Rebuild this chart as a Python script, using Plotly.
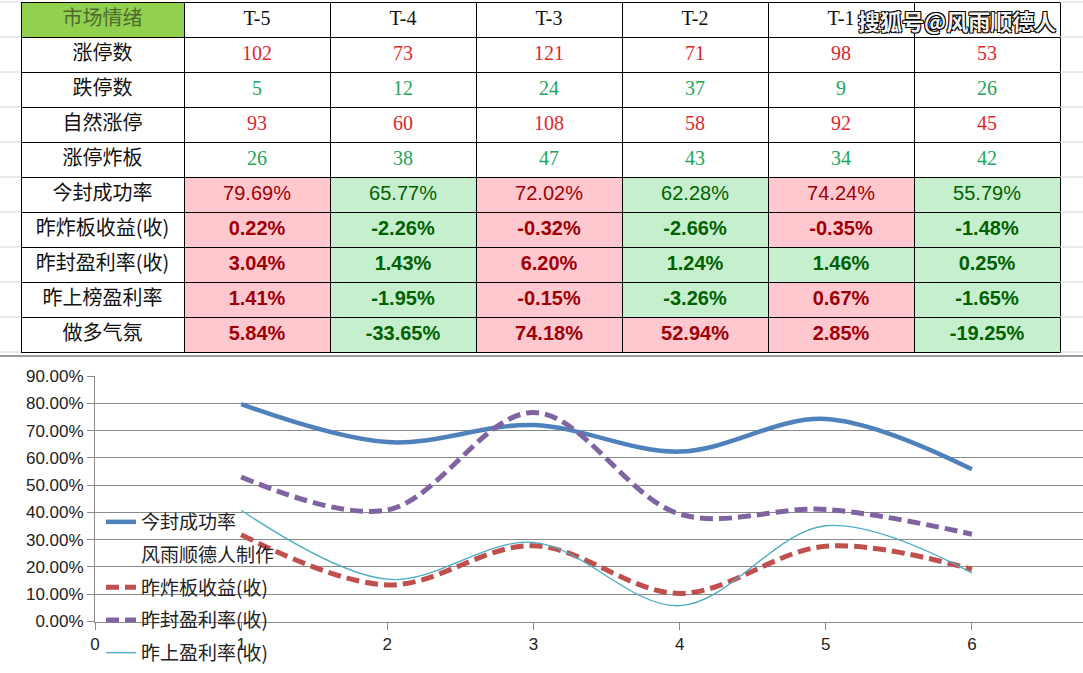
import plotly.graph_objects as go

# ---------------- data ----------------
col_headers = ["市场情绪", "T-5", "T-4", "T-3", "T-2", "T-1", ""]
row_labels = ["涨停数", "跌停数", "自然涨停", "涨停炸板", "今封成功率",
              "昨炸板收益(收)", "昨封盈利率(收)", "昨上榜盈利率", "做多气氛"]
zt_count = [102, 73, 121, 71, 98, 53]
dt_count = [5, 12, 24, 37, 9, 26]
natural_zt = [93, 60, 108, 58, 92, 45]
zt_broken = [26, 38, 47, 43, 34, 42]
seal_rate = [79.69, 65.77, 72.02, 62.28, 74.24, 55.79]
broken_ret = [0.22, -2.26, -0.32, -2.66, -0.35, -1.48]
seal_profit = [3.04, 1.43, 6.20, 1.24, 1.46, 0.25]
list_profit = [1.41, -1.95, -0.15, -3.26, 0.67, -1.65]
long_mood = [5.84, -33.65, 74.18, 52.94, 2.85, -19.25]
# conditional-format flag per cell (1 = warm / pink, 0 = cool / green)
seal_rate_up = [1, 0, 1, 0, 1, 0]
broken_ret_up = [1, 0, 1, 0, 1, 0]
seal_profit_up = [1, 0, 1, 0, 0, 0]
list_profit_up = [1, 0, 1, 0, 1, 0]
long_mood_up = [1, 0, 1, 1, 1, 0]

# chart series (in %)
x_days = [1, 2, 3, 4, 5, 6]
chart_seal_rate = [79.69, 65.77, 72.02, 62.28, 74.24, 55.79]
chart_broken_ret = [31.8, 13.4, 27.8, 10.3, 27.6, 19.1]
chart_seal_profit = [53.0, 40.9, 76.6, 39.4, 41.1, 32.0]
chart_list_profit = [40.8, 15.5, 29.0, 5.8, 35.1, 17.8]
series_names = ["今封成功率", "风雨顺德人制作", "昨炸板收益(收)", "昨封盈利率(收)", "昨上盈利率(收)"]
y_ticks = [0, 10, 20, 30, 40, 50, 60, 70, 80, 90]
x_ticks = [0, 1, 2, 3, 4, 5, 6]

# ---------------- styles ----------------
W, H = 1083, 673
RED, GREEN = "#E0262B", "#22A55A"
PINK_BG, GREEN_BG = "#FFC7CE", "#C6EFCE"
PINK_FG, GREEN_FG = "#9C0006", "#006100"
SERIF = "Liberation Serif, Noto Sans CJK SC, serif"
SANS = "Liberation Sans, Arial, sans-serif"
CJK = "Noto Sans CJK SC, sans-serif"
ROW_H = 35

n = len(zt_count)
count_rows = [(zt_count, RED), (dt_count, GREEN), (natural_zt, RED), (zt_broken, GREEN)]
pct_rows = [(broken_ret, broken_ret_up), (seal_profit, seal_profit_up),
            (list_profit, list_profit_up), (long_mood, long_mood_up)]

def py(px):
    return 1 - px / H

# ---- upper table: header + count rows (serif numbers)
a_vals = [row_labels[:4]]
a_cols = [["#111111"] * 4]
for j in range(n):
    a_vals.append([str(arr[j]) for arr, _ in count_rows])
    a_cols.append([col for _, col in count_rows])

# ---- lower table: "今封成功率" row as header + bold percentage rows
b_head = [row_labels[4]] + [f"{v:.2f}%" for v in seal_rate]
b_head_fill = ["white"] + [PINK_BG if u else GREEN_BG for u in seal_rate_up]
b_head_col = ["#111111"] + [PINK_FG if u else GREEN_FG for u in seal_rate_up]
b_vals = [row_labels[5:]]
b_fill = [["white"] * 4]
b_cols = [["#111111"] * 4]
for j in range(n):
    b_vals.append([f"{arr[j]:.2f}%" for arr, _ in pct_rows])
    b_fill.append([PINK_BG if up[j] else GREEN_BG for _, up in pct_rows])
    b_cols.append([PINK_FG if up[j] else GREEN_FG for _, up in pct_rows])

fig = go.Figure()
TX = [21 / W, 1060 / W]
CW = [163] + [146] * n
LINE = dict(color="black", width=1)

fig.add_trace(go.Table(
    domain=dict(x=TX, y=[py(2 + 5 * ROW_H + 1), py(2)]),
    columnwidth=CW,
    header=dict(values=[[h] for h in col_headers],
                fill_color=["#92D050"] + ["white"] * n, line=LINE,
                align="center", height=ROW_H,
                font=dict(family=[CJK] + [SERIF] * n, size=20,
                          color=["#4E6B2E"] + ["#111111"] * n)),
    cells=dict(values=a_vals, fill_color="white", line=LINE,
               align="center", height=ROW_H,
               font=dict(family=[CJK] + [SERIF] * n, size=20, color=a_cols)),
))
fig.add_trace(go.Table(
    domain=dict(x=TX, y=[py(2 + 10 * ROW_H + 1), py(2 + 5 * ROW_H)]),
    columnwidth=CW,
    header=dict(values=[[h] for h in b_head], fill_color=b_head_fill, line=LINE,
                align="center", height=ROW_H,
                font=dict(family=[CJK] + [SANS] * n, size=20, color=b_head_col)),
    cells=dict(values=b_vals, fill_color=b_fill, line=LINE,
               align="center", height=ROW_H,
               font=dict(family=[CJK] + [SANS] * n, size=20, color=b_cols,
                         weight=["normal"] + ["bold"] * n)),
))

# chart traces
styles = [
    dict(color="#4F81BD", width=4.5),
    dict(color="rgba(0,0,0,0)", width=0),
    dict(color="#C0504D", width=5, dash="13px,6px"),
    dict(color="#8064A2", width=5, dash="13px,6px"),
    dict(color="#4BACC6", width=1.3),
]
series = [chart_seal_rate, None, chart_broken_ret, chart_seal_profit, chart_list_profit]
for k, (name, ys, st) in enumerate(zip(series_names, series, styles)):
    if ys is None:
        fig.add_trace(go.Scatter(x=[None], y=[None], mode="lines", name=name,
                                 line=st, legendgroup=f"g{k}", showlegend=True))
    else:
        fig.add_trace(go.Scatter(x=x_days, y=[v / 100 for v in ys], mode="lines",
                                 name=name, line=dict(shape="spline", smoothing=1.0, **st),
                                 legendgroup=f"g{k}"))

GRID = "#8A8A8A"
fig.update_layout(
    width=W, height=H,
    margin=dict(l=0, r=0, t=0, b=0),
    paper_bgcolor="white", plot_bgcolor="white",
    xaxis=dict(domain=[95 / W, 1], range=[0, 6.76], tickvals=x_ticks,
               showgrid=False, zeroline=False, showline=True, linecolor=GRID, linewidth=1,
               ticks="outside", ticklen=7, tickcolor=GRID, automargin=False,
               tickfont=dict(family=SANS, size=17, color="#222")),
    yaxis=dict(domain=[py(621.5), py(376)], range=[0, 0.9],
               tickvals=[t / 100 for t in y_ticks], tickformat=".2%",
               showgrid=True, gridcolor=GRID, gridwidth=1, zeroline=False,
               showline=True, linecolor=GRID, linewidth=1, automargin=False,
               ticks="outside", ticklen=7, tickcolor=GRID,
               tickfont=dict(family=SANS, size=17, color="#222")),
    legend=dict(x=101 / W, xanchor="left", y=py(503), yanchor="top",
                bgcolor="rgba(0,0,0,0)", traceorder="grouped", tracegroupgap=5,
                font=dict(family=CJK, size=19, color="#222")),
    showlegend=True,
)

# spreadsheet grid decoration
shapes = []
for i in range(11):
    yy = py(2 + i * ROW_H)
    shapes.append(dict(type="line", xref="paper", yref="paper", x0=0, x1=21 / W, y0=yy, y1=yy,
                       line=dict(color="#D4D4D4", width=1)))
    shapes.append(dict(type="line", xref="paper", yref="paper", x0=1060 / W, x1=1, y0=yy, y1=yy,
                       line=dict(color="#D4D4D4", width=1)))
shapes.append(dict(type="line", xref="paper", yref="paper", x0=0, x1=1,
                   y0=py(356), y1=py(356), line=dict(color="#9A9A9A", width=2)))
fig.update_layout(shapes=shapes)

fig.add_annotation(
    text="搜狐号@风雨顺德人", xref="paper", yref="paper",
    x=1058 / W, y=py(20), xanchor="right", yanchor="middle", showarrow=False,
    font=dict(family=CJK, size=22, color="#F2F2F2", weight="bold",
              shadow="-1px -1px 0 #000, 1px -1px 0 #000, -1px 1px 0 #000, 1px 1px 0 #000"),
)

fig.write_html("out.html", config={"displayModeBar": False},
               post_script="document.body.style.margin='0px';document.body.style.overflow='hidden';")
